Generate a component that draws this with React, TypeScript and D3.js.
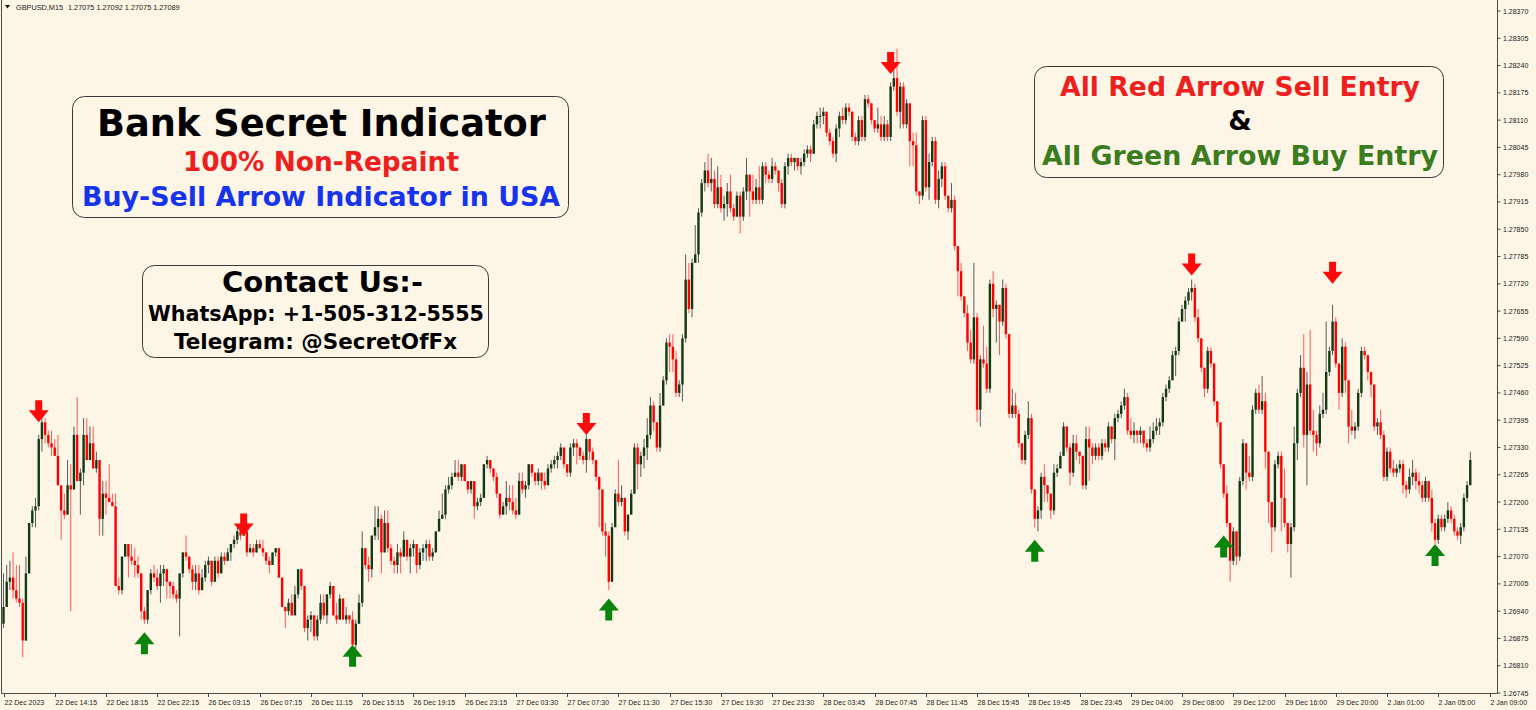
import React from "react";
import * as d3 from "d3";

const symbolLabel = "GBPUSD,M15";
const headerQuote = "1.27075 1.27092 1.27075 1.27089";

const firstOpen = 1.2691;

const closes = [
  1.2695, 1.2701, 1.2702, 1.2699, 1.2697, 1.2696, 1.2687, 1.2703, 1.2715, 1.2718,
  1.2719, 1.2735, 1.2739, 1.2736, 1.2734, 1.2733, 1.2731, 1.2724, 1.2718, 1.2717,
  1.2724, 1.2723, 1.2736, 1.2725, 1.2727, 1.2736, 1.2730, 1.2734, 1.2728, 1.2730,
  1.2716, 1.2722, 1.2721, 1.2720, 1.2719, 1.2700, 1.2699, 1.2707, 1.2710, 1.2707,
  1.2706, 1.2705, 1.2703, 1.2694, 1.2692, 1.2699, 1.2703, 1.2702, 1.2700, 1.2703,
  1.2704, 1.2701, 1.2700, 1.2698, 1.2697, 1.2703, 1.2708, 1.2707, 1.2704, 1.2701,
  1.2703, 1.2699, 1.2702, 1.2705, 1.2706, 1.2701, 1.2706, 1.2703, 1.2707, 1.2706,
  1.2708, 1.2710, 1.2711, 1.2713, 1.2712, 1.2713, 1.2708, 1.2709, 1.2708, 1.2710,
  1.2709, 1.2708, 1.2706, 1.2705, 1.2708, 1.2709, 1.2702, 1.2695, 1.2694, 1.2696,
  1.2693, 1.2698, 1.2704, 1.2700, 1.2690, 1.2692, 1.2693, 1.2688, 1.2692, 1.2696,
  1.2693, 1.2698, 1.2700, 1.2693, 1.2692, 1.2697, 1.2692, 1.2693, 1.2692, 1.2686,
  1.2691, 1.2696, 1.2709, 1.2705, 1.2704, 1.2712, 1.2714, 1.2716, 1.2708, 1.2715,
  1.2709, 1.2706, 1.2705, 1.2708, 1.2707, 1.2711, 1.2707, 1.2709, 1.2710, 1.2705,
  1.2708, 1.2709, 1.2710, 1.2707, 1.2708, 1.2713, 1.2716, 1.2717, 1.2723, 1.2724,
  1.2726, 1.2727, 1.2726, 1.2729, 1.2725, 1.2723, 1.2725, 1.2719, 1.2720, 1.2721,
  1.2729, 1.2730, 1.2728, 1.2726, 1.2722, 1.2717, 1.2719, 1.2721, 1.2720, 1.2718,
  1.2717, 1.2725, 1.2723, 1.2724, 1.2729, 1.2727, 1.2725, 1.2727, 1.2725, 1.2724,
  1.2728, 1.2729, 1.2730, 1.2731, 1.2733, 1.2729, 1.2727, 1.2733, 1.2734, 1.2733,
  1.2731, 1.2730, 1.2735, 1.2732, 1.2730, 1.2726, 1.2723, 1.2713, 1.2712, 1.2701,
  1.2714, 1.2722, 1.2720, 1.2721, 1.2713, 1.2717, 1.2722, 1.2733, 1.2729, 1.2731,
  1.2733, 1.2736, 1.2743, 1.2739, 1.2733, 1.2743, 1.2749, 1.2758, 1.2757, 1.2754,
  1.2746, 1.2748, 1.2759, 1.2773, 1.2766, 1.2777, 1.2779, 1.2789, 1.2796, 1.2799,
  1.2796, 1.2797, 1.2791, 1.2795, 1.2790, 1.2791, 1.2794, 1.2790, 1.2788, 1.2793,
  1.2788, 1.2794, 1.2798, 1.2794, 1.2792, 1.2795, 1.2792, 1.2800, 1.2798, 1.2797,
  1.2800, 1.2799, 1.2796, 1.2791, 1.2800, 1.2802, 1.2801, 1.2802, 1.2800, 1.2801,
  1.2803, 1.2804, 1.2803, 1.2810, 1.2812, 1.2812, 1.2813, 1.2808, 1.2806, 1.2803,
  1.2809, 1.2812, 1.2811, 1.2814, 1.2813, 1.2807, 1.2806, 1.2811, 1.2807, 1.2816,
  1.2815, 1.2811, 1.2809, 1.2810, 1.2807, 1.2810, 1.2807, 1.2819, 1.2821, 1.2813,
  1.2819, 1.2810, 1.2815, 1.2806, 1.2805, 1.2794, 1.2793, 1.2811, 1.2795, 1.2801,
  1.2806, 1.2792, 1.2797, 1.2800, 1.2793, 1.2790, 1.2792, 1.2781, 1.2775, 1.2769,
  1.2765, 1.2758, 1.2754, 1.2764, 1.2742, 1.2754, 1.2753, 1.2747, 1.2772, 1.2766,
  1.2767, 1.2763, 1.2771, 1.2760, 1.2741, 1.2743, 1.2741, 1.2734, 1.2730, 1.2736,
  1.2740, 1.2723, 1.2716, 1.2718, 1.2726, 1.2724, 1.2722, 1.2718, 1.2727, 1.2728,
  1.2731, 1.2738, 1.2733, 1.2727, 1.2734, 1.2732, 1.2731, 1.2724, 1.2735, 1.2733,
  1.2731, 1.2733, 1.2731, 1.2734, 1.2733, 1.2738, 1.2735, 1.2740, 1.2741, 1.2743,
  1.2745, 1.2737, 1.2736, 1.2737, 1.2736, 1.2737, 1.2734, 1.2733, 1.2735, 1.2737,
  1.2738, 1.2739, 1.2745, 1.2747, 1.2749, 1.2755, 1.2756, 1.2763, 1.2766, 1.2768,
  1.2770, 1.2771, 1.2764, 1.2759, 1.2752, 1.2747, 1.2756, 1.2753, 1.2744, 1.2739,
  1.2729, 1.2722, 1.2715, 1.2706, 1.2713, 1.2707, 1.2725, 1.2734, 1.2727, 1.2726,
  1.2742, 1.2746, 1.2742, 1.2744, 1.2732, 1.2720, 1.2714, 1.2729, 1.2731, 1.2721,
  1.2715, 1.2710, 1.2714, 1.2734, 1.2746, 1.2752, 1.2736, 1.2748, 1.2737, 1.2736,
  1.2734, 1.2741, 1.2742, 1.2751, 1.2756, 1.2763, 1.2753, 1.2746, 1.2757, 1.2749,
  1.2738, 1.2737, 1.2738, 1.2746, 1.2756, 1.2755, 1.2751, 1.2748, 1.2738, 1.2739,
  1.2736, 1.2726, 1.2732, 1.2728, 1.2727, 1.2728, 1.2729, 1.2724, 1.2723, 1.2726,
  1.2727, 1.2725, 1.2724, 1.2721, 1.2725, 1.2721, 1.2715, 1.2711, 1.2716, 1.2714,
  1.2716, 1.2718, 1.2716, 1.2713, 1.2712, 1.2714, 1.2721, 1.2724, 1.2730,
];

const highs = [
  1.2703, 1.2705, 1.2706, 1.2708, 1.2705, 1.2705, 1.2697, 1.2707, 1.2715, 1.2719,
  1.2721, 1.2736, 1.2742, 1.2740, 1.2737, 1.2737, 1.2735, 1.2736, 1.2724, 1.2722,
  1.2730, 1.2729, 1.2738, 1.2745, 1.2728, 1.2740, 1.2740, 1.2738, 1.2738, 1.2732,
  1.2730, 1.2725, 1.2725, 1.2729, 1.2722, 1.2722, 1.2702, 1.2707, 1.2710, 1.2710,
  1.2710, 1.2709, 1.2707, 1.2703, 1.2695, 1.2699, 1.2704, 1.2705, 1.2704, 1.2705,
  1.2705, 1.2703, 1.2701, 1.2701, 1.2699, 1.2703, 1.2708, 1.2712, 1.2707, 1.2705,
  1.2705, 1.2705, 1.2704, 1.2706, 1.2707, 1.2706, 1.2707, 1.2707, 1.2708, 1.2708,
  1.2709, 1.2710, 1.2712, 1.2714, 1.2714, 1.2714, 1.2713, 1.2710, 1.2710, 1.2711,
  1.2711, 1.2711, 1.2708, 1.2707, 1.2708, 1.2709, 1.2709, 1.2702, 1.2695, 1.2697,
  1.2698, 1.2700, 1.2704, 1.2704, 1.2700, 1.2693, 1.2694, 1.2693, 1.2693, 1.2698,
  1.2698, 1.2698, 1.2701, 1.2700, 1.2696, 1.2698, 1.2697, 1.2695, 1.2693, 1.2694,
  1.2692, 1.2698, 1.2713, 1.2709, 1.2707, 1.2712, 1.2719, 1.2719, 1.2717, 1.2718,
  1.2718, 1.2710, 1.2707, 1.2710, 1.2709, 1.2713, 1.2711, 1.2710, 1.2711, 1.2710,
  1.2709, 1.2710, 1.2711, 1.2711, 1.2709, 1.2713, 1.2718, 1.2722, 1.2724, 1.2726,
  1.2727, 1.2730, 1.2730, 1.2729, 1.2729, 1.2725, 1.2725, 1.2725, 1.2721, 1.2722,
  1.2729, 1.2731, 1.2730, 1.2728, 1.2727, 1.2722, 1.2720, 1.2725, 1.2724, 1.2724,
  1.2721, 1.2727, 1.2727, 1.2725, 1.2729, 1.2729, 1.2727, 1.2728, 1.2727, 1.2727,
  1.2729, 1.2730, 1.2731, 1.2732, 1.2734, 1.2733, 1.2729, 1.2734, 1.2735, 1.2735,
  1.2733, 1.2732, 1.2736, 1.2735, 1.2733, 1.2730, 1.2726, 1.2723, 1.2715, 1.2713,
  1.2715, 1.2723, 1.2730, 1.2724, 1.2721, 1.2717, 1.2723, 1.2734, 1.2734, 1.2732,
  1.2735, 1.2740, 1.2745, 1.2744, 1.2739, 1.2746, 1.2750, 1.2759, 1.2760, 1.2760,
  1.2756, 1.2749, 1.2760, 1.2779, 1.2777, 1.2778, 1.2786, 1.2790, 1.2797, 1.2801,
  1.2803, 1.2802, 1.2799, 1.2800, 1.2798, 1.2793, 1.2796, 1.2798, 1.2791, 1.2794,
  1.2794, 1.2795, 1.2802, 1.2798, 1.2798, 1.2797, 1.2800, 1.2801, 1.2801, 1.2799,
  1.2802, 1.2801, 1.2799, 1.2797, 1.2801, 1.2803, 1.2803, 1.2802, 1.2802, 1.2802,
  1.2804, 1.2805, 1.2805, 1.2811, 1.2813, 1.2814, 1.2814, 1.2813, 1.2809, 1.2807,
  1.2810, 1.2813, 1.2814, 1.2815, 1.2815, 1.2813, 1.2808, 1.2812, 1.2812, 1.2817,
  1.2817, 1.2815, 1.2811, 1.2814, 1.2812, 1.2812, 1.2811, 1.2820, 1.2823, 1.2828,
  1.2820, 1.2820, 1.2816, 1.2815, 1.2808, 1.2808, 1.2794, 1.2812, 1.2812, 1.2803,
  1.2807, 1.2807, 1.2799, 1.2801, 1.2801, 1.2793, 1.2796, 1.2793, 1.2781, 1.2777,
  1.2769, 1.2767, 1.2761, 1.2777, 1.2765, 1.2755, 1.2762, 1.2757, 1.2773, 1.2775,
  1.2768, 1.2767, 1.2773, 1.2772, 1.2760, 1.2747, 1.2746, 1.2742, 1.2734, 1.2737,
  1.2744, 1.2741, 1.2723, 1.2719, 1.2727, 1.2729, 1.2724, 1.2722, 1.2729, 1.2729,
  1.2732, 1.2739, 1.2738, 1.2734, 1.2736, 1.2736, 1.2732, 1.2731, 1.2738, 1.2738,
  1.2734, 1.2734, 1.2734, 1.2735, 1.2735, 1.2739, 1.2738, 1.2741, 1.2742, 1.2744,
  1.2747, 1.2746, 1.2740, 1.2739, 1.2737, 1.2738, 1.2737, 1.2735, 1.2738, 1.2739,
  1.2740, 1.2740, 1.2746, 1.2748, 1.2750, 1.2756, 1.2757, 1.2764, 1.2767, 1.2769,
  1.2771, 1.2773, 1.2772, 1.2766, 1.2759, 1.2752, 1.2757, 1.2757, 1.2753, 1.2744,
  1.2739, 1.2729, 1.2724, 1.2715, 1.2714, 1.2713, 1.2726, 1.2735, 1.2734, 1.2731,
  1.2743, 1.2747, 1.2748, 1.2750, 1.2746, 1.2732, 1.2720, 1.2730, 1.2732, 1.2732,
  1.2728, 1.2715, 1.2715, 1.2738, 1.2747, 1.2755, 1.2760, 1.2751, 1.2761, 1.2742,
  1.2737, 1.2743, 1.2746, 1.2763, 1.2757, 1.2767, 1.2764, 1.2753, 1.2759, 1.2758,
  1.2749, 1.2742, 1.2739, 1.2747, 1.2757, 1.2757, 1.2755, 1.2751, 1.2748, 1.2740,
  1.2742, 1.2737, 1.2733, 1.2733, 1.2730, 1.2729, 1.2730, 1.2730, 1.2725, 1.2728,
  1.2730, 1.2728, 1.2727, 1.2725, 1.2726, 1.2725, 1.2723, 1.2716, 1.2717, 1.2717,
  1.2717, 1.2720, 1.2719, 1.2717, 1.2714, 1.2715, 1.2722, 1.2725, 1.2732,
];

const lows = [
  1.2690, 1.2695, 1.2699, 1.2697, 1.2696, 1.2695, 1.2683, 1.2687, 1.2703, 1.2714,
  1.2714, 1.2718, 1.2732, 1.2734, 1.2733, 1.2731, 1.2731, 1.2724, 1.2711, 1.2716,
  1.2717, 1.2694, 1.2723, 1.2725, 1.2717, 1.2724, 1.2730, 1.2730, 1.2728, 1.2727,
  1.2712, 1.2712, 1.2717, 1.2720, 1.2719, 1.2700, 1.2698, 1.2698, 1.2707, 1.2702,
  1.2705, 1.2702, 1.2702, 1.2692, 1.2691, 1.2691, 1.2698, 1.2701, 1.2699, 1.2696,
  1.2700, 1.2697, 1.2697, 1.2697, 1.2696, 1.2688, 1.2702, 1.2706, 1.2703, 1.2699,
  1.2699, 1.2698, 1.2699, 1.2701, 1.2703, 1.2700, 1.2701, 1.2702, 1.2703, 1.2705,
  1.2706, 1.2706, 1.2709, 1.2710, 1.2711, 1.2712, 1.2707, 1.2708, 1.2707, 1.2708,
  1.2709, 1.2707, 1.2705, 1.2703, 1.2705, 1.2707, 1.2702, 1.2695, 1.2690, 1.2693,
  1.2693, 1.2693, 1.2697, 1.2699, 1.2689, 1.2687, 1.2689, 1.2687, 1.2687, 1.2691,
  1.2692, 1.2691, 1.2697, 1.2693, 1.2691, 1.2692, 1.2692, 1.2691, 1.2691, 1.2686,
  1.2685, 1.2691, 1.2695, 1.2704, 1.2701, 1.2702, 1.2711, 1.2711, 1.2703, 1.2708,
  1.2708, 1.2705, 1.2703, 1.2703, 1.2703, 1.2707, 1.2706, 1.2703, 1.2707, 1.2703,
  1.2704, 1.2706, 1.2706, 1.2706, 1.2706, 1.2708, 1.2713, 1.2716, 1.2716, 1.2722,
  1.2723, 1.2726, 1.2725, 1.2725, 1.2725, 1.2722, 1.2722, 1.2716, 1.2718, 1.2719,
  1.2721, 1.2728, 1.2727, 1.2725, 1.2721, 1.2716, 1.2717, 1.2717, 1.2718, 1.2717,
  1.2716, 1.2717, 1.2722, 1.2721, 1.2723, 1.2726, 1.2724, 1.2724, 1.2723, 1.2723,
  1.2724, 1.2727, 1.2728, 1.2728, 1.2730, 1.2728, 1.2726, 1.2726, 1.2731, 1.2729,
  1.2730, 1.2729, 1.2727, 1.2730, 1.2729, 1.2725, 1.2714, 1.2712, 1.2707, 1.2699,
  1.2701, 1.2714, 1.2719, 1.2719, 1.2712, 1.2711, 1.2717, 1.2722, 1.2723, 1.2726,
  1.2728, 1.2730, 1.2735, 1.2737, 1.2732, 1.2732, 1.2743, 1.2748, 1.2751, 1.2751,
  1.2745, 1.2745, 1.2744, 1.2758, 1.2765, 1.2764, 1.2777, 1.2777, 1.2788, 1.2794,
  1.2795, 1.2794, 1.2790, 1.2790, 1.2789, 1.2787, 1.2788, 1.2789, 1.2787, 1.2788,
  1.2784, 1.2787, 1.2792, 1.2788, 1.2791, 1.2791, 1.2791, 1.2791, 1.2796, 1.2796,
  1.2796, 1.2798, 1.2794, 1.2790, 1.2790, 1.2798, 1.2800, 1.2799, 1.2799, 1.2798,
  1.2800, 1.2802, 1.2801, 1.2803, 1.2809, 1.2809, 1.2810, 1.2807, 1.2805, 1.2802,
  1.2801, 1.2807, 1.2810, 1.2810, 1.2812, 1.2806, 1.2805, 1.2805, 1.2806, 1.2806,
  1.2814, 1.2810, 1.2808, 1.2808, 1.2806, 1.2806, 1.2806, 1.2806, 1.2818, 1.2812,
  1.2809, 1.2809, 1.2809, 1.2800, 1.2800, 1.2793, 1.2791, 1.2792, 1.2794, 1.2792,
  1.2800, 1.2791, 1.2790, 1.2795, 1.2792, 1.2789, 1.2789, 1.2780, 1.2769, 1.2768,
  1.2764, 1.2756, 1.2753, 1.2753, 1.2739, 1.2738, 1.2752, 1.2746, 1.2746, 1.2764,
  1.2758, 1.2755, 1.2762, 1.2759, 1.2740, 1.2740, 1.2740, 1.2733, 1.2729, 1.2729,
  1.2735, 1.2722, 1.2714, 1.2713, 1.2716, 1.2720, 1.2720, 1.2716, 1.2717, 1.2726,
  1.2728, 1.2731, 1.2732, 1.2724, 1.2726, 1.2730, 1.2729, 1.2723, 1.2723, 1.2725,
  1.2729, 1.2730, 1.2730, 1.2730, 1.2732, 1.2732, 1.2734, 1.2730, 1.2739, 1.2740,
  1.2742, 1.2736, 1.2735, 1.2734, 1.2734, 1.2734, 1.2733, 1.2732, 1.2732, 1.2734,
  1.2736, 1.2736, 1.2738, 1.2744, 1.2746, 1.2749, 1.2750, 1.2755, 1.2763, 1.2763,
  1.2767, 1.2768, 1.2763, 1.2758, 1.2751, 1.2745, 1.2746, 1.2752, 1.2743, 1.2738,
  1.2728, 1.2721, 1.2714, 1.2701, 1.2705, 1.2705, 1.2706, 1.2724, 1.2723, 1.2725,
  1.2725, 1.2741, 1.2741, 1.2741, 1.2728, 1.2715, 1.2708, 1.2713, 1.2728, 1.2713,
  1.2714, 1.2708, 1.2702, 1.2713, 1.2730, 1.2745, 1.2733, 1.2724, 1.2736, 1.2732,
  1.2731, 1.2733, 1.2740, 1.2741, 1.2750, 1.2755, 1.2752, 1.2742, 1.2745, 1.2746,
  1.2734, 1.2736, 1.2735, 1.2737, 1.2745, 1.2754, 1.2749, 1.2745, 1.2737, 1.2736,
  1.2735, 1.2725, 1.2725, 1.2727, 1.2726, 1.2726, 1.2727, 1.2722, 1.2721, 1.2722,
  1.2724, 1.2723, 1.2722, 1.2720, 1.2720, 1.2720, 1.2713, 1.2710, 1.2710, 1.2713,
  1.2713, 1.2715, 1.2715, 1.2712, 1.2711, 1.2710, 1.2713, 1.2720, 1.2724,
];

const priceTicks = [
  1.26745, 1.2681, 1.26875, 1.2694, 1.27005, 1.2707, 1.27135, 1.272, 1.27265,
  1.2733, 1.27395, 1.2746, 1.27525, 1.2759, 1.27655, 1.2772, 1.27785, 1.2785,
  1.27915, 1.2798, 1.28045, 1.2811, 1.28175, 1.2824, 1.28305, 1.2837,
];

const timeLabels = [
  "22 Dec 2023", "22 Dec 14:15", "22 Dec 18:15", "22 Dec 22:15", "26 Dec 03:15",
  "26 Dec 07:15", "26 Dec 11:15", "26 Dec 15:15", "26 Dec 19:15", "26 Dec 23:15",
  "27 Dec 03:30", "27 Dec 07:30", "27 Dec 11:30", "27 Dec 15:30", "27 Dec 19:30",
  "27 Dec 23:30", "28 Dec 03:45", "28 Dec 07:45", "28 Dec 11:45", "28 Dec 15:45",
  "28 Dec 19:45", "28 Dec 23:45", "29 Dec 04:00", "29 Dec 08:00", "29 Dec 12:00",
  "29 Dec 16:00", "29 Dec 20:00", "2 Jan 01:00", "2 Jan 05:00", "2 Jan 09:00",
];
const barsPerLabel = 16;

const sellIdx = [11, 75, 182, 277, 371, 415];
const sellPrice = [1.2739, 1.2712, 1.2736, 1.2822, 1.2774, 1.2772];
const buyIdx = [44, 109, 189, 322, 381, 447];
const buyPrice = [1.2689, 1.2686, 1.2697, 1.2711, 1.2712, 1.2710];

const W = 1536;
const H = 710;
const BG = "#fdf5e6";
const FRAME = "#4a4a4a";
const BULL = "#123a12";
const BULL_WICK = "#5a5a5a";
const BEAR = "#ff0000";
const BEAR_WICK = "#ff5a5a";
const RED_TXT = "#ee1f1f";
const BLUE_TXT = "#1634ee";
const GREEN_TXT = "#3b7c20";
const ARROW_RED = "#ff0a0a";
const ARROW_GREEN = "#0a840a";
const BOLD = "'DejaVu Sans', Verdana, sans-serif";
const AXIS_FONT = "'Liberation Sans', Arial, sans-serif";

const plotLeft = 1.5;
const plotRight = 1497.5;
const plotBottom = 693.5;

// down arrow shape, tip at origin
const downArrow: [number, number][] = [
  [-3.5, -22], [3.5, -22], [3.5, -12], [10, -12], [0, 0], [-10, -12], [-3.5, -12],
];

export default function App() {
  const lastLabelIdx = (timeLabels.length - 1) * barsPerLabel;
  const x = d3.scaleLinear().domain([0, lastLabelIdx]).range([3.5, 1489.5]);
  const y = d3.scaleLinear().domain([1.26745, 1.2837]).range([693, 11]);
  const n = Math.min(closes.length, highs.length, lows.length);
  const line = d3.line();

  const candles = d3.range(n).map((i) => {
    const o = i === 0 ? firstOpen : closes[i - 1];
    const c = closes[i];
    const hi = Math.max(highs[i], o, c);
    const lo = Math.min(lows[i], o, c);
    const bull = c >= o;
    const cx = x(i);
    const yTop = y(Math.max(o, c));
    const bh = Math.max(1, Math.abs(y(o) - y(c)));
    return (
      <g key={i}>
        <line x1={cx} x2={cx} y1={y(hi)} y2={y(lo)} stroke={bull ? BULL_WICK : BEAR_WICK} strokeWidth={1} />
        <rect x={cx - 1.2} y={yTop} width={2.4} height={bh} fill={bull ? BULL : BEAR} />
      </g>
    );
  });

  const arrowPath = (dir: number) =>
    line(downArrow.map(([px, py]) => [px, py * dir] as [number, number])) + "Z";

  const sells = sellIdx.map((idx, k) => (
    <path key={"s" + k} d={arrowPath(1)} transform={`translate(${x(idx)},${y(sellPrice[k])})`} fill={ARROW_RED} />
  ));
  const buys = buyIdx.map((idx, k) => (
    <path key={"b" + k} d={arrowPath(-1)} transform={`translate(${x(idx)},${y(buyPrice[k])})`} fill={ARROW_GREEN} />
  ));

  return (
    <svg
      width={W}
      height={H}
      style={{ position: "fixed", left: 0, top: 0, background: BG, display: "block" }}
    >
      <rect x={0} y={0} width={W} height={H} fill={BG} />
      {/* header */}
      <path d="M5,5 L10,5 L7.5,8.5 Z" fill="#111" />
      <text x={16} y={9.5} fontFamily={AXIS_FONT} fontSize={7.3} fill="#222">{symbolLabel}</text>
      <text x={68} y={9.5} fontFamily={AXIS_FONT} fontSize={7.3} fill="#222">{headerQuote}</text>

      {/* candles */}
      <g>{candles}</g>
      <g>{sells}</g>
      <g>{buys}</g>

      {/* frame */}
      <path
        d={`M${plotLeft},0 V${plotBottom} H${plotRight} V0`}
        fill="none"
        stroke={FRAME}
        strokeWidth={1}
      />

      {/* price axis */}
      {priceTicks.map((p) => (
        <g key={p}>
          <line x1={plotRight} x2={plotRight + 3} y1={y(p)} y2={y(p)} stroke={FRAME} strokeWidth={1} />
          <text x={1503} y={y(p) + 2.5} fontFamily={AXIS_FONT} fontSize={7} fill="#222">
            {p.toFixed(5)}
          </text>
        </g>
      ))}

      {/* time axis */}
      {timeLabels.map((t, k) => {
        const tx = Math.round(x(k * barsPerLabel)) + 0.5;
        return (
          <g key={t}>
            <line x1={tx} x2={tx} y1={plotBottom} y2={plotBottom + 3.5} stroke={FRAME} strokeWidth={1} />
            <text x={tx} y={704.5} fontFamily={AXIS_FONT} fontSize={7} fill="#222">{t}</text>
          </g>
        );
      })}

      {/* box 1 */}
      <rect x={72.5} y={96.5} width={496} height={121} rx={12} fill={BG} stroke="#3a3a3a" strokeWidth={1} />
      <text x={97} y={136} fontFamily={BOLD} fontWeight="bold" fontSize={37} fill="#000" textLength={449} lengthAdjust="spacingAndGlyphs">
        Bank Secret Indicator
      </text>
      <text x={183} y={171} fontFamily={BOLD} fontWeight="bold" fontSize={26} fill={RED_TXT} textLength={276} lengthAdjust="spacingAndGlyphs">
        100% Non-Repaint
      </text>
      <text x={82} y={206} fontFamily={BOLD} fontWeight="bold" fontSize={26} fill={BLUE_TXT} textLength={478} lengthAdjust="spacingAndGlyphs">
        Buy-Sell Arrow Indicator in USA
      </text>

      {/* box 2 */}
      <rect x={142.5} y={265.5} width={346} height={92} rx={12} fill={BG} stroke="#3a3a3a" strokeWidth={1} />
      <text x={222} y={292} fontFamily={BOLD} fontWeight="bold" fontSize={29} fill="#000" textLength={201} lengthAdjust="spacingAndGlyphs">
        Contact Us:-
      </text>
      <text x={148} y={321} fontFamily={BOLD} fontWeight="bold" fontSize={21} fill="#000" textLength={336} lengthAdjust="spacingAndGlyphs">
        WhatsApp: +1-505-312-5555
      </text>
      <text x={174} y={349} fontFamily={BOLD} fontWeight="bold" fontSize={21} fill="#000" textLength={283} lengthAdjust="spacingAndGlyphs">
        Telegram: @SecretOfFx
      </text>

      {/* box 3 */}
      <rect x={1034.5} y={66.5} width={409} height={111} rx={12} fill={BG} stroke="#3a3a3a" strokeWidth={1} />
      <text x={1060} y={96} fontFamily={BOLD} fontWeight="bold" fontSize={27} fill={RED_TXT} textLength={360} lengthAdjust="spacingAndGlyphs">
        All Red Arrow Sell Entry
      </text>
      <text x={1240} y={130} fontFamily={BOLD} fontWeight="bold" fontSize={27} fill="#000" textAnchor="middle">
        &amp;
      </text>
      <text x={1042} y={165} fontFamily={BOLD} fontWeight="bold" fontSize={27} fill={GREEN_TXT} textLength={396} lengthAdjust="spacingAndGlyphs">
        All Green Arrow Buy Entry
      </text>
    </svg>
  );
}
